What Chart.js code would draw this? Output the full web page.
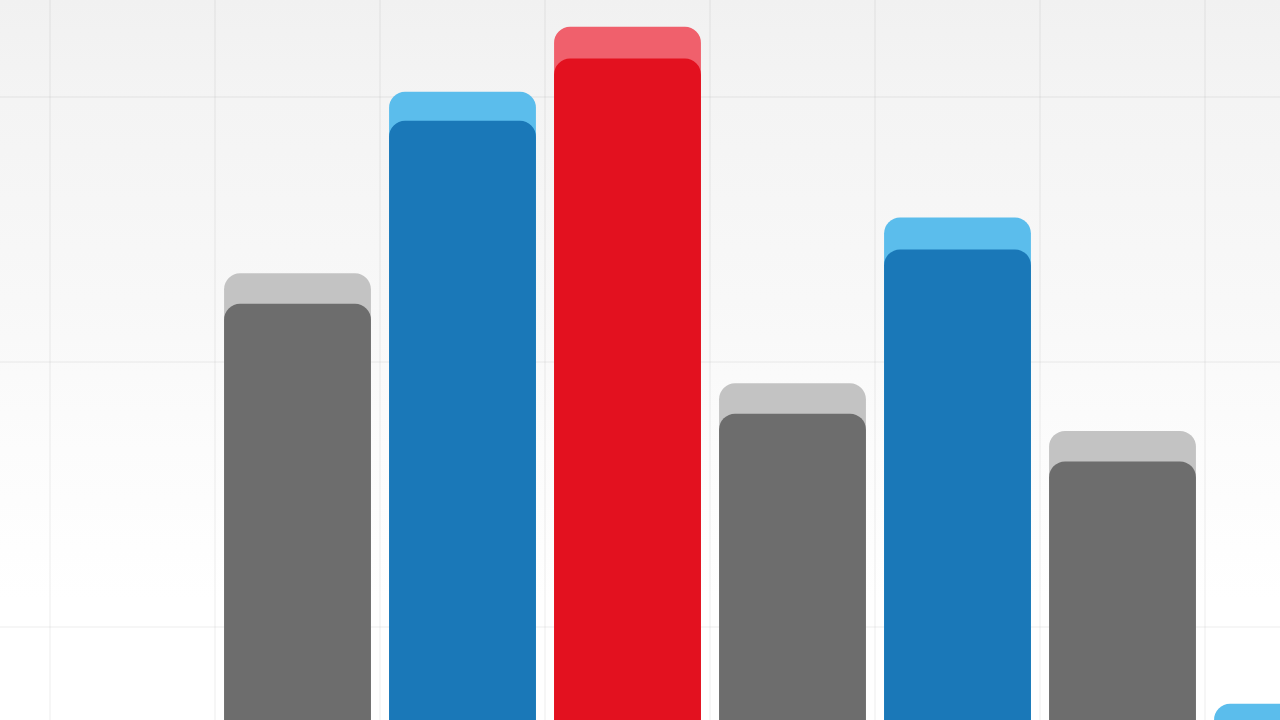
<!DOCTYPE html>
<html>
<head>
<meta charset="utf-8">
<script src="https://cdn.jsdelivr.net/npm/chart.js@4/dist/chart.umd.min.js"></script>
<style>
  html, body { margin: 0; padding: 0; width: 1280px; height: 720px; overflow: hidden;
    background: linear-gradient(180deg, #f1f1f1 0px, #f4f4f4 100px, #f8f8f8 300px, #fcfcfc 450px, #ffffff 600px); }
  #wrap { position: absolute; left: -115px; top: 0; width: 1485px; height: 1157px; }
</style>
</head>
<body>
<div id="wrap"><canvas id="c" width="1485" height="1157"></canvas></div>
<script>
const categories = ['', '', 'A', 'B', 'C', 'D', 'E', 'F', 'G'];
const frontValues = [null, null, 64.4, 78.2, 82.9, 56.1, 68.5, 52.5, 31.9];
const backValues  = [null, null, 66.7, 80.4, 85.3, 58.4, 70.9, 54.8, 34.2];
const frontColors = ['#6d6d6d', '#6d6d6d', '#6d6d6d', '#1a78b8', '#e3111f', '#6d6d6d', '#1a78b8', '#6d6d6d', '#1a78b8'];
const backColors  = ['#c3c3c3', '#c3c3c3', '#c3c3c3', '#5bbdec', '#f0606c', '#c3c3c3', '#5bbdec', '#c3c3c3', '#5bbdec'];
const yTicks = [0, 20, 40, 60, 80];

const radius = { topLeft: 16, topRight: 16, bottomLeft: 0, bottomRight: 0 };

new Chart(document.getElementById('c'), {
  type: 'bar',
  data: {
    labels: categories,
    datasets: [
      { label: 'front', data: frontValues, backgroundColor: frontColors, borderRadius: radius,
        borderSkipped: false, grouped: false, order: 0, barPercentage: 0.89, categoryPercentage: 1 },
      { label: 'back', data: backValues, backgroundColor: backColors, borderRadius: radius,
        borderSkipped: false, grouped: false, order: 1, barPercentage: 0.89, categoryPercentage: 1 }
    ]
  },
  options: {
    responsive: false,
    animation: false,
    events: [],
    layout: { padding: 0 },
    plugins: { legend: { display: false }, tooltip: { enabled: false } },
    scales: {
      x: {
        offset: true,
        grid: { display: true, offset: true, color: 'rgba(0,0,0,0.035)', lineWidth: 2, drawTicks: false },
        border: { display: false },
        ticks: { display: false }
      },
      y: {
        min: 0,
        max: 1157 / 13.25,
        afterBuildTicks: (axis) => { axis.ticks = yTicks.map(v => ({ value: v })); },
        grid: { display: true, color: 'rgba(0,0,0,0.035)', lineWidth: 2, drawTicks: false },
        border: { display: false },
        ticks: { display: false }
      }
    }
  }
});
</script>
</body>
</html>
